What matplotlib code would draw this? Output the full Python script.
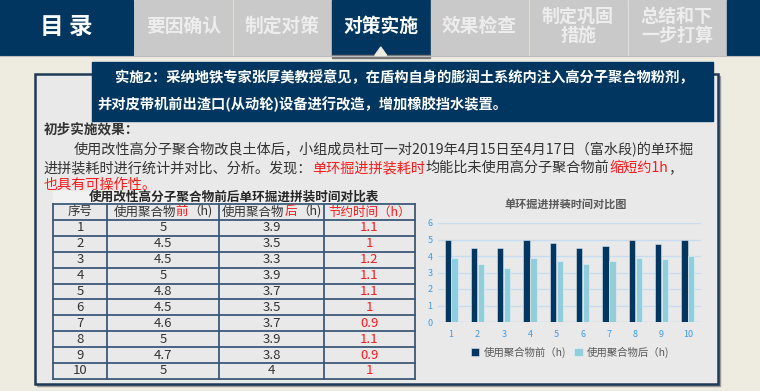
import matplotlib
matplotlib.use("Agg")
import matplotlib.pyplot as plt
from matplotlib.patches import Rectangle, Polygon
import numpy as np

plt.rcParams['font.family'] = ['Noto Sans CJK SC', 'DejaVu Sans']

# ---------------- data ----------------
ring_no = [1, 2, 3, 4, 5, 6, 7, 8, 9, 10]
before_h = [5, 4.5, 4.5, 5, 4.8, 4.5, 4.6, 5, 4.7, 5]
after_h = [3.9, 3.5, 3.3, 3.9, 3.7, 3.5, 3.7, 3.9, 3.8, 4]
saved_h = [1.1, 1, 1.2, 1.1, 1.1, 1, 0.9, 1.1, 0.9, 1]
nav_tabs = ["要因确认", "制定对策", "对策实施", "效果检查", "制定巩固\n措施", "总结和下\n一步打算"]
active_tab = "对策实施"
legend_labels = ["使用聚合物前（h)", "使用聚合物后（h)"]
chart_title = "单环掘进拼装时间对比图"
table_title = "使用改性高分子聚合物前后单环掘进拼装时间对比表"
y_ticks = [0, 1, 2, 3, 4, 5, 6]

NAVY = "#003660"
LIGHT = "#92CDDC"
RED = "#FF1A1A"
DARK = "#333333"
BEIGE = "#EEEBE1"
BOXFILL = "#E9E9E9"

W, H = 760, 391
fig = plt.figure(figsize=(W / 100, H / 100), dpi=100)
fig.patch.set_facecolor(BEIGE)
ax = fig.add_axes([0, 0, 1, 1])
ax.set_xlim(0, W)
ax.set_ylim(H, 0)
ax.axis('off')
renderer = fig.canvas.get_renderer()


def seg_text(x, y, segs, size, weight='normal', ha='left'):
    texts = []
    for s, c in segs:
        t = ax.text(0, y, s, color=c, fontsize=size, fontweight=weight,
                    va='center', ha='left', zorder=10)
        texts.append(t)
    widths = [t.get_window_extent(renderer).width for t in texts]
    total = sum(widths)
    start = x if ha == 'left' else x - total / 2
    for t, w in zip(texts, widths):
        t.set_x(start)
        start += w
    return total


# ---------------- header ----------------
ax.add_patch(Rectangle((0, 0), 133, 55, color=NAVY, zorder=1))
ax.text(66, 27, "目 录", color='white', fontsize=17, fontweight='bold',
        ha='center', va='center', zorder=5)
tab_w = 98.7
for i, name in enumerate(nav_tabs):
    x0 = 135 + i * tab_w
    active = name == active_tab
    ax.add_patch(Rectangle((x0, 0), tab_w - 1.5, 55,
                           color=NAVY if active else "#C9C9C9", zorder=1))
    ax.text(x0 + tab_w / 2 - 1, 26 if "\n" not in name else 26, name,
            color='white' if active else "#EDEDED", fontsize=13.5 if "\n" not in name else 13,
            fontweight='bold', ha='center', va='center', linespacing=1.0, zorder=5)
    if active:
        ax.add_patch(Rectangle((x0, 55), tab_w - 1.5, 2.5, color="#777777", zorder=1))
        cx = x0 + tab_w / 2 - 1
        ax.add_patch(Polygon([[cx - 6, 55.5], [cx + 6, 55.5], [cx, 47]],
                             closed=True, color=BEIGE, zorder=6))
ax.add_patch(Rectangle((135 + 6 * tab_w, 0), W - (135 + 6 * tab_w), 55, color=NAVY, zorder=1))
ax.plot([0, W], [55.5, 55.5], color="#BDBDBD", lw=0.8, zorder=2)

# ---------------- main box ----------------
ax.add_patch(Rectangle((37, 76), 683, 310, color="#9A9A9A", zorder=1))
ax.add_patch(Rectangle((35, 74), 683, 310, facecolor=BOXFILL,
                       edgecolor="#1E3A56", lw=1.8, zorder=2))

# callout
ax.add_patch(Rectangle((92, 62), 621, 59, color=NAVY, zorder=3))
seg_text(115, 78, [("实施2：采纳地铁专家张厚美教授意见，在盾构自身的膨润土系统内注入高分子聚合物粉剂，", 'white')],
         10.3, 'bold')
seg_text(97, 104, [("并对皮带机前出渣口(从动轮)设备进行改造，增加橡胶挡水装置。", 'white')],
         10.3, 'bold')

# paragraph
seg_text(44, 130, [("初步实施效果：", DARK)], 9.8, 'bold')
seg_text(74, 150, [("使用改性高分子聚合物改良土体后，小组成员杜可一对2019年4月15日至4月17日（富水段)的单环掘", DARK)], 10.2)
seg_text(44, 168, [("进拼装耗时进行统计并对比、分析。发现：", DARK), ("单环掘进拼装耗时", RED),
                   ("均能比未使用高分子聚合物前", DARK), ("缩短约1h", RED), ("，", DARK)], 10.2)
seg_text(44, 185, [("也具有可操作性。", RED)], 10.2)

# ---------------- table ----------------
ax.add_patch(Rectangle((53, 191), 285, 13, color="#F1F1F1", zorder=3))
seg_text(234, 197, [(table_title, "#262626")], 9.1, 'bold', ha='center')
col_x = [53, 107, 219, 324, 415]
row_top = 204
row_h = 15.9
n_rows = len(ring_no) + 1
LINE = "#3A5A7A"
for cx in col_x:
    ax.plot([cx, cx], [row_top, row_top + n_rows * row_h], color=LINE, lw=1.3, zorder=4)
for r in range(n_rows + 1):
    yy = row_top + r * row_h
    ax.plot([col_x[0], col_x[-1]], [yy, yy], color=LINE, lw=1.3, zorder=4)
centers = [(col_x[i] + col_x[i + 1]) / 2 for i in range(4)]
hy = row_top + row_h / 2
fs = 9
seg_text(centers[0], hy, [("序号", DARK)], fs, ha='center')
seg_text(centers[1], hy, [("使用聚合物", DARK), ("前", RED), ("（h)", DARK)], fs, ha='center')
seg_text(centers[2], hy, [("使用聚合物", DARK), ("后", RED), ("（h)", DARK)], fs, ha='center')
seg_text(centers[3], hy, [("节约时间（h）", RED)], fs, ha='center')
for i in range(len(ring_no)):
    yy = row_top + (i + 1.5) * row_h
    vals = [(f"{ring_no[i]}", DARK), (f"{before_h[i]:g}", DARK),
            (f"{after_h[i]:g}", DARK), (f"{saved_h[i]:g}", RED)]
    for c, (s, col) in zip(centers, vals):
        ax.text(c, yy, s, color=col, fontsize=fs + 0.5, ha='center', va='center', zorder=10)

# ---------------- bar chart ----------------
ax.text(566, 205, chart_title, color="#595959", fontsize=8, fontweight='bold',
        ha='center', va='center', zorder=10)
bx0, bx1, by0, by1 = 438, 701, 322, 223
cax = fig.add_axes([bx0 / W, 1 - by0 / H, (bx1 - bx0) / W, (by0 - by1) / H])
cax.set_facecolor('none')
x = np.array(ring_no)
bw = 0.24
b1 = cax.bar(x - 0.13, before_h, bw, color=NAVY, edgecolor="#DDE6EE", lw=0.4, zorder=3,
             label=legend_labels[0])
b2 = cax.bar(x + 0.13, after_h, bw, color=LIGHT, edgecolor="#E6F2F6", lw=0.4, zorder=3,
             label=legend_labels[1])
cax.set_xlim(0.5, 10.5)
cax.set_ylim(0, 6)
cax.set_yticks(y_ticks)
cax.set_xticks(x)
cax.grid(axis='y', color="#C5DDF2", lw=0.9, zorder=0)
for s in cax.spines.values():
    s.set_visible(False)
cax.tick_params(length=0, labelsize=6.5, colors="#3D9BE9", pad=4)
cax.tick_params(axis='x', pad=6)
cax.axhline(0, color="#C5DDF2", lw=1.0, zorder=2)
fig.legend(handles=[b1, b2], labels=legend_labels, loc='center',
           bbox_to_anchor=(570 / W, 1 - 352 / H), ncol=2, frameon=False,
           fontsize=7.5, labelcolor="#595959", handlelength=0.8, handleheight=0.8,
           handletextpad=0.4, columnspacing=0.8)

fig.savefig("out.png", dpi=100, facecolor=BEIGE)
